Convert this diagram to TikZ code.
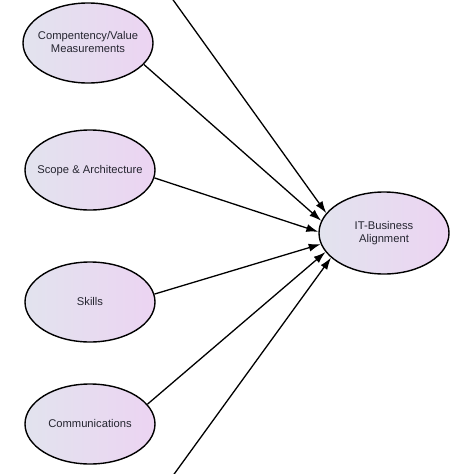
\documentclass[tikz,border=0pt]{standalone}
\usepackage{fontspec}
\setmainfont{Liberation Sans}
\usetikzlibrary{shapes.geometric,arrows.meta}
\definecolor{fillleft}{HTML}{E2E3EE}
\definecolor{fillright}{HTML}{ECD4F2}
\definecolor{inktext}{HTML}{252530}
\newcommand{\ovaltext}[1]{\smash{\makebox[0pt]{\raisebox{-.3em}{\begin{tabular}{@{}c@{}}#1\end{tabular}}}}}
\tikzset{
    factor/.style={ellipse,draw,line width=1.4pt,left color=fillleft,right color=fillright,
        minimum width=130pt,minimum height=80pt,inner sep=0pt,text=inktext,
        font=\fontsize{11.2}{13.3}\selectfont},
    link/.style={line width=1.3pt,-{Latex[length=12pt,width=8pt]}}
}
\begin{document}
\begin{tikzpicture}[x=1pt,y=-1pt]
    \useasboundingbox (0,0) rectangle (474,474);
    \node[factor] (comp) at (88,43) {\ovaltext{Compentency/Value\\Measurements}};
    \node[factor] (scope) at (90,170) {\ovaltext{Scope \& Architecture}};
    \node[factor] (skills) at (90,302) {\ovaltext{Skills}};
    \node[factor] (comm) at (90,424) {\ovaltext{Communications}};
    \node[factor,minimum height=82pt] (align) at (384,233) {\ovaltext{IT-Business\\Alignment}};
    \coordinate (topin) at (171,-3);
    \coordinate (botin) at (172,477);
    \draw[link] (topin)--(align.161);
    \draw[link] (comp.339)--(align.169);
    \draw[link] (scope.353)--(align.179);
    \draw[link] (skills.7)--(align.190);
    \draw[link] (comm.19)--(align.198);
    \draw[link] (botin)--(align.205);
\end{tikzpicture}
\end{document}
